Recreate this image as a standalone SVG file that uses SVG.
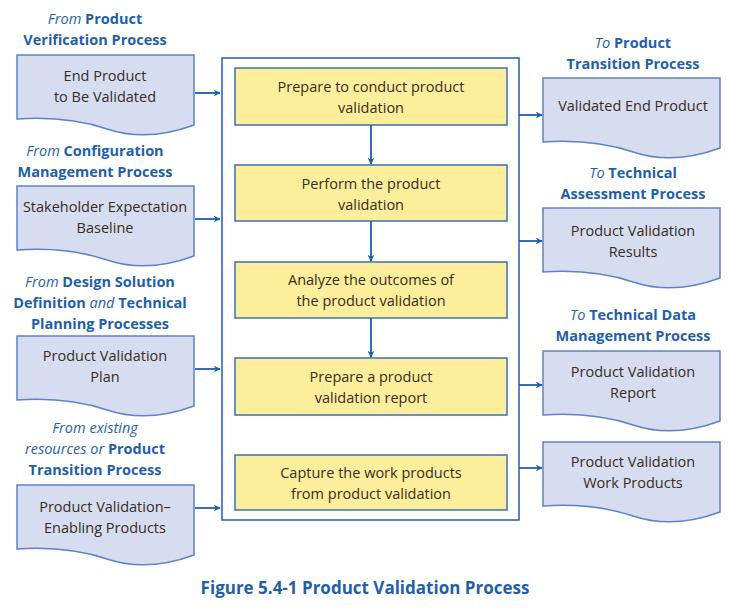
<svg xmlns="http://www.w3.org/2000/svg" width="730" height="609" viewBox="0 0 730 609">
<defs>
<style>
.doc{fill:#d6ddf0;stroke:#5f83c2;stroke-width:1.5}
.step{fill:#fdee9c;stroke:#3b70b8;stroke-width:1.5}
.t{font-family:"Open Sans","Liberation Sans",sans-serif;font-size:14.5px;fill:#3a2c22;text-anchor:middle}
.h{font-family:"Open Sans","Liberation Sans",sans-serif;font-size:14.5px;fill:#1f5fa8;font-weight:bold;text-anchor:middle}
.h tspan.i{font-style:italic;font-weight:normal}
.c{stroke:#1f5fa8;stroke-width:1.8;fill:none}
</style>
<path id="d" d="M0,0 H177 V70 C150,80 120,84 90,74 C60,64 30,62 0,64 Z"/>
<marker id="a" viewBox="0 0 10 10" refX="9" refY="5" markerWidth="7" markerHeight="7" orient="auto" markerUnits="userSpaceOnUse"><path d="M0,0 L10,5 L0,10 L3,5 Z" fill="#1f5fa8"/></marker>
</defs>
<rect width="730" height="609" fill="#fff"/>
<rect x="222" y="58" width="297" height="462" fill="#fff" stroke="#1f5fa8" stroke-width="1.5"/>
<g id="hL1"><text class="h" x="95" y="24"><tspan class="i">From</tspan> Product</text><text class="h" x="95" y="45">Verification Process</text></g>
<g id="in1"><use href="#d" class="doc" x="17" y="55"/><text class="t" x="105" y="81">End Product</text><text class="t" x="105" y="102">to Be Validated</text></g>
<g id="hL2"><text class="h" x="95" y="156"><tspan class="i">From</tspan> Configuration</text><text class="h" x="95" y="177">Management Process</text></g>
<g id="in2"><use href="#d" class="doc" x="17" y="186"/><text class="t" x="105" y="212">Stakeholder Expectation</text><text class="t" x="105" y="233">Baseline</text></g>
<g id="hL3"><text class="h" x="100" y="287"><tspan class="i">From</tspan> Design Solution</text><text class="h" x="100" y="308">Definition <tspan class="i">and</tspan> Technical</text><text class="h" x="100" y="329">Planning Processes</text></g>
<g id="in3"><use href="#d" class="doc" x="17" y="336"/><text class="t" x="105" y="361">Product Validation</text><text class="t" x="105" y="382">Plan</text></g>
<g id="hL4"><text class="h" x="95" y="433"><tspan class="i">From</tspan><tspan class="i" style="fill:#1f5fa8"> existing</tspan></text><text class="h" x="95" y="454"><tspan class="i">resources or</tspan> Product</text><text class="h" x="95" y="475">Transition Process</text></g>
<g id="in4"><use href="#d" class="doc" x="17" y="485"/><text class="t" x="105" y="512">Product Validation–</text><text class="t" x="105" y="533">Enabling Products</text></g>

<g id="s1"><rect class="step" x="235" y="68" width="272" height="57"/><text class="t" x="371" y="92">Prepare to conduct product</text><text class="t" x="371" y="113">validation</text></g>
<g id="s2"><rect class="step" x="235" y="165" width="272" height="56"/><text class="t" x="371" y="189">Perform the product</text><text class="t" x="371" y="210">validation</text></g>
<g id="s3"><rect class="step" x="235" y="262" width="272" height="56"/><text class="t" x="371" y="285">Analyze the outcomes of</text><text class="t" x="371" y="306">the product validation</text></g>
<g id="s4"><rect class="step" x="235" y="358" width="272" height="57"/><text class="t" x="371" y="382">Prepare a product</text><text class="t" x="371" y="403">validation report</text></g>
<g id="s5"><rect class="step" x="235" y="455" width="272" height="55"/><text class="t" x="371" y="478">Capture the work products</text><text class="t" x="371" y="499">from product validation</text></g>

<g id="hR1"><text class="h" x="633" y="48"><tspan class="i">To</tspan> Product</text><text class="h" x="633" y="69">Transition Process</text></g>
<g id="out1"><use href="#d" class="doc" x="543" y="78" transform="translate(0,0)"/><text class="t" x="633" y="111">Validated End Product</text></g>
<g id="hR2"><text class="h" x="633" y="178"><tspan class="i">To</tspan> Technical</text><text class="h" x="633" y="199">Assessment Process</text></g>
<g id="out2"><use href="#d" class="doc" x="543" y="208"/><text class="t" x="633" y="236">Product Validation</text><text class="t" x="633" y="257">Results</text></g>
<g id="hR3"><text class="h" x="633" y="320"><tspan class="i">To</tspan> Technical Data</text><text class="h" x="633" y="341">Management Process</text></g>
<g id="out3"><use href="#d" class="doc" x="543" y="351"/><text class="t" x="633" y="377">Product Validation</text><text class="t" x="633" y="398">Report</text></g>
<g id="out4"><use href="#d" class="doc" x="543" y="442"/><text class="t" x="633" y="467">Product Validation</text><text class="t" x="633" y="488">Work Products</text></g>

<g id="connectors" class="c" marker-end="url(#a)">
<path class="c" marker-end="url(#a)" d="M195,93 H220"/>
<path class="c" marker-end="url(#a)" d="M195,219 H220"/>
<path class="c" marker-end="url(#a)" d="M195,369 H220"/>
<path class="c" marker-end="url(#a)" d="M195,508 H220"/>
<path class="c" marker-end="url(#a)" d="M371,125 V164"/>
<path class="c" marker-end="url(#a)" d="M371,221 V261"/>
<path class="c" marker-end="url(#a)" d="M371,318 V357"/>
<path class="c" marker-end="url(#a)" d="M519,115 H542"/>
<path class="c" marker-end="url(#a)" d="M519,241 H542"/>
<path class="c" marker-end="url(#a)" d="M519,385 H542"/>
<path class="c" marker-end="url(#a)" d="M519,468 H542"/>
</g>
<text x="365" y="594" style="font-family:'Open Sans','Liberation Sans',sans-serif;font-size:17px;font-weight:bold;fill:#1f5fa8;text-anchor:middle">Figure 5.4-1  Product Validation Process</text>
</svg>
